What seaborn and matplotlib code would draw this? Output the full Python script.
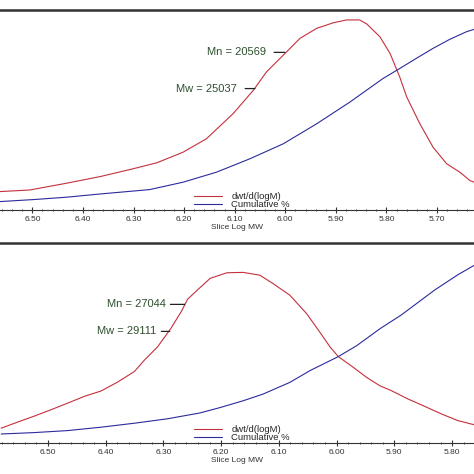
import matplotlib
matplotlib.use("Agg")
import matplotlib.pyplot as plt
import matplotlib.ticker as mticker
import seaborn as sns
import pandas as pd

# top run: slice log MW vs relative height (0 = axis, 100 = top frame)
top_red_x = [6.564, 6.505, 6.432, 6.366, 6.301, 6.254, 6.202, 6.156, 6.103, 6.063, 6.037,
             6.004, 5.971, 5.938, 5.905, 5.879, 5.853, 5.839, 5.813, 5.793, 5.774, 5.760,
             5.734, 5.708, 5.681, 5.655, 5.635, 5.627]
top_red_y = [9.2, 10.0, 13.4, 16.7, 20.6, 23.6, 28.9, 35.6, 48.2, 59.9, 69.1,
             77.4, 85.8, 90.8, 93.6, 95.0, 95.0, 93.0, 86.6, 78.3, 66.6, 56.5,
             43.1, 31.4, 23.1, 18.9, 14.7, 13.9]
top_blue_x = [6.564, 6.498, 6.432, 6.366, 6.268, 6.202, 6.136, 6.070, 6.004, 5.938,
              5.872, 5.807, 5.774, 5.741, 5.708, 5.675, 5.642, 5.627]
top_blue_y = [4.2, 5.2, 6.4, 8.0, 10.2, 13.9, 18.9, 25.6, 33.1, 43.1,
              54.0, 65.7, 70.7, 75.8, 80.8, 85.3, 89.1, 90.3]
top_marks = ["Mn = 20569", "Mw = 25037"]
top_mark_x = [6.001, 6.060]
top_mark_y = [78.8, 60.7]

# bottom run
bot_red_x = [6.581, 6.553, 6.524, 6.495, 6.466, 6.437, 6.408, 6.379, 6.350, 6.333, 6.310,
             6.287, 6.269, 6.258, 6.241, 6.219, 6.190, 6.162, 6.133, 6.110, 6.081, 6.052,
             6.029, 6.011, 5.997, 5.971, 5.948, 5.925, 5.906, 5.877, 5.848, 5.819, 5.790, 5.760]
bot_red_y = [7.4, 10.4, 13.4, 16.6, 19.9, 23.3, 26.0, 30.5, 35.8, 41.4, 48.1,
             57.3, 65.7, 71.9, 76.5, 82.3, 85.1, 85.3, 83.9, 79.7, 73.9, 64.7,
             55.4, 47.9, 43.2, 37.8, 32.8, 28.6, 26.3, 22.1, 18.4, 14.6, 11.2, 9.0]
bot_blue_x = [6.581, 6.524, 6.466, 6.408, 6.350, 6.293, 6.237, 6.202, 6.162, 6.127,
              6.081, 6.046, 5.997, 5.965, 5.925, 5.888, 5.830, 5.790, 5.760]
bot_blue_y = [4.5, 5.2, 6.2, 7.9, 9.9, 12.1, 15.0, 17.7, 21.1, 24.5,
              30.3, 36.2, 43.2, 48.7, 57.1, 64.0, 76.5, 84.1, 89.1]
bot_marks = ["Mn = 27044", "Mw = 29111"]
bot_mark_x = [6.263, 6.289]
bot_mark_y = [69.3, 55.8]

RED = "#c4303c"
BLUE = "#2b2b9c"

sns.set_style("white")
plt.rcParams["font.family"] = ["Liberation Sans", "DejaVu Sans"]


def draw_panel(ax, rx, ry, bx, by, marks, mx, my, xlim, offsets, gaps):
    red = pd.DataFrame({"x": rx, "y": ry})
    blue = pd.DataFrame({"x": bx, "y": by})
    sns.lineplot(data=red, x="x", y="y", ax=ax, color=RED, lw=0.8,
                 label="dwt/d(logM)", sort=False)
    sns.lineplot(data=blue, x="x", y="y", ax=ax, color=BLUE, lw=0.8,
                 label="Cumulative %", sort=False)
    ax.set_xlim(*xlim)
    ax.set_ylim(0, 100)

    for txt, x, y, off, gap in zip(marks, mx, my, offsets, gaps):
        ax.annotate(txt, xy=(x, y), xytext=(-off, 0), textcoords="offset points",
                    ha="right", va="center", fontsize=8, color="#2f4f2f",
                    arrowprops=dict(arrowstyle="-", color="#222222", lw=0.9,
                                    shrinkA=gap, shrinkB=0))

    for s in ["left", "right"]:
        ax.spines[s].set_visible(False)
    ax.spines["top"].set_color("#333333")
    ax.spines["top"].set_linewidth(1.8)
    ax.spines["bottom"].set_color("#333333")
    ax.spines["bottom"].set_linewidth(0.8)

    ax.xaxis.set_major_locator(mticker.MultipleLocator(0.1))
    ax.xaxis.set_minor_locator(mticker.MultipleLocator(0.02))
    ax.xaxis.set_major_formatter(mticker.FormatStrFormatter("%.2f"))
    ax.tick_params(axis="x", which="major", direction="inout", length=4, width=0.8,
                   labelsize=6, colors="#333333", pad=2, bottom=True)
    ax.tick_params(axis="x", which="minor", direction="inout", length=2, width=0.6,
                   colors="#333333", bottom=True)
    ax.set_yticks([])
    ax.set_ylabel("")
    ax.set_xlabel("Slice Log MW", fontsize=6, color="#333333", labelpad=1)

    ax.legend(loc="lower left", bbox_to_anchor=(0.41, 0.005), frameon=False,
              fontsize=6.8, handlelength=2.9, handletextpad=1.0, labelspacing=-0.1,
              borderpad=0.0, borderaxespad=0.0)


fig = plt.figure(figsize=(4.74, 4.74), dpi=100)
ax_top = fig.add_axes([0.0, 0.557, 1.0, 0.422])
ax_bot = fig.add_axes([0.0, 0.0654, 1.0, 0.422])

draw_panel(ax_top, top_red_x, top_red_y, top_blue_x, top_blue_y,
           top_marks, top_mark_x, top_mark_y, (6.564, 5.627), [13.7, 13.0], [3.6, 3.6])
draw_panel(ax_bot, bot_red_x, bot_red_y, bot_blue_x, bot_blue_y,
           bot_marks, bot_mark_x, bot_mark_y, (6.583, 5.762), [13.7, 9.4], [1.0, 1.0])

fig.savefig("out.png", dpi=100)
